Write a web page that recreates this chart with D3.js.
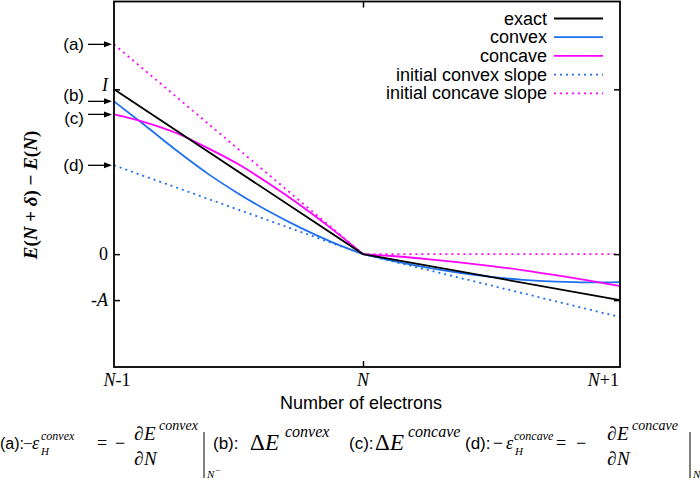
<!DOCTYPE html>
<html>
<head>
<meta charset="utf-8">
<script src="https://cdnjs.cloudflare.com/ajax/libs/d3/7.8.5/d3.min.js"></script>
<style>
  body { margin: 0; background: #fff; }
  svg { display: block; }
</style>
</head>
<body>
<div id="chart"></div>
<script>
// values in units of I (ionisation energy); x is electron offset from N
var xLeft  = [-1, -0.875, -0.75, -0.625, -0.5, -0.375, -0.25, -0.125, 0];
var xRight = [0, 0.125, 0.25, 0.375, 0.5, 0.625, 0.75, 0.875, 1];

var convexLeft   = [0.927, 0.78, 0.63, 0.49, 0.367, 0.257, 0.159, 0.073, 0];
var convexRight  = [0, -0.044, -0.082, -0.113, -0.138, -0.156, -0.167, -0.172, -0.170];
var concaveLeft  = [0.848, 0.80, 0.735, 0.645, 0.545, 0.425, 0.295, 0.153, 0];
var concaveRight = [0, -0.013, -0.030, -0.050, -0.073, -0.098, -0.127, -0.159, -0.194];

var exactX = [-1, 0, 1];
var exactY = [1, 0, -0.279];
var convexSlopeY  = [0.539, 0, -0.382];
var concaveSlopeY = [1.273, 0, 0];

var xTickVals   = [-1, 0, 1];
var xTickLabels = [['N', '-1'], ['N', ''], ['N', '+1']];
var yTickVals   = [1, 0, -0.279];
var yTickLabels = ['I', '0', '-A'];

var markerNames = ['(a)', '(b)', '(c)', '(d)'];
var markerVals  = [1.273, 0.927, 0.848, 0.539];

var legendNames = ['exact', 'convex', 'concave', 'initial convex slope', 'initial concave slope'];

var width = 700, height = 485;
var blue = '#1f70ee', magenta = '#ff00ff';
var serif = '"Liberation Serif", "Times New Roman", serif';
var sans = '"Liberation Sans", Arial, sans-serif';

var x = d3.scaleLinear().domain([-1, 0, 1]).range([114, 363, 620]);
var y = d3.scaleLinear().domain([-0.685, 1.533]).range([367, 1.5]);

var svg = d3.select('#chart').append('svg')
    .attr('width', width)
    .attr('height', height);

var line = d3.line()
    .x(function(d){ return x(d[0]); })
    .y(function(d){ return y(d[1]); });
var smooth = d3.line()
    .x(function(d){ return x(d[0]); })
    .y(function(d){ return y(d[1]); })
    .curve(d3.curveMonotoneX);

var pair = function(xs, ys){ return xs.map(function(v, i){ return [v, ys[i]]; }); };

var series = [
  {pts: pair(exactX, convexSlopeY), color: blue, dash: '2,4', gen: line},
  {pts: pair(exactX, concaveSlopeY), color: magenta, dash: '2,4', gen: line},
  {pts: pair(xLeft, convexLeft), color: blue, gen: smooth},
  {pts: pair(xRight, convexRight), color: blue, gen: smooth},
  {pts: pair(xLeft, concaveLeft), color: magenta, gen: smooth},
  {pts: pair(xRight, concaveRight), color: magenta, gen: smooth},
  {pts: pair(exactX, exactY), color: '#000', gen: line}
];

svg.append('g').selectAll('path').data(series)
  .enter().append('path')
    .attr('d', function(d){ return d.gen(d.pts); })
    .attr('fill', 'none')
    .attr('stroke', function(d){ return d.color; })
    .attr('stroke-width', 1.8)
    .attr('stroke-dasharray', function(d){ return d.dash || null; });

// frame
svg.append('rect')
  .attr('x', x(-1)).attr('y', y.range()[1])
  .attr('width', x(1) - x(-1)).attr('height', y.range()[0] - y.range()[1])
  .attr('fill', 'none').attr('stroke', '#000').attr('stroke-width', 1.8);

// ticks (inward)
var yAxisL = d3.axisRight(y).tickValues(yTickVals).tickSize(6).tickFormat('');
var yAxisR = d3.axisLeft(y).tickValues(yTickVals).tickSize(6).tickFormat('');
var xAxisB = d3.axisTop(x).tickValues([0]).tickSize(6).tickFormat('');
var xAxisT = d3.axisBottom(x).tickValues([0]).tickSize(6).tickFormat('');
[[yAxisL, 'translate(' + x(-1) + ',0)'], [yAxisR, 'translate(' + x(1) + ',0)'],
 [xAxisB, 'translate(0,' + y.range()[0] + ')'], [xAxisT, 'translate(0,' + y.range()[1] + ')']]
  .forEach(function(a){
    var g = svg.append('g').attr('transform', a[1]).call(a[0]);
    g.select('.domain').remove();
    g.selectAll('line').attr('stroke-width', 1.5);
  });

// y tick labels
var yLab = svg.append('g').selectAll('text').data(yTickVals)
  .enter().append('text')
    .attr('x', 108)
    .attr('y', function(d, i){ return y(d) + (i === 0 ? 2 : 6); })
    .attr('text-anchor', 'end')
    .attr('font-family', serif)
    .attr('font-size', 18);
yLab.each(function(d, i){
  var t = d3.select(this), s = yTickLabels[i];
  if (s === '0') { t.text(s); return; }
  if (s.charAt(0) === '-') { t.append('tspan').text('-'); s = s.slice(1); }
  t.append('tspan').attr('font-style', 'italic').text(s);
});

// x tick labels
var xLab = svg.append('g').selectAll('text').data(xTickVals)
  .enter().append('text')
    .attr('x', function(d, i){ return i === 2 ? x(d) - 1 : x(d) + (i === 0 ? 3 : 0); })
    .attr('y', 386)
    .attr('text-anchor', function(d, i){ return i === 2 ? 'end' : 'middle'; })
    .attr('font-family', serif)
    .attr('font-size', 18);
xLab.each(function(d, i){
  var t = d3.select(this);
  t.append('tspan').attr('font-style', 'italic').text(xTickLabels[i][0]);
  t.append('tspan').text(xTickLabels[i][1]);
});

svg.append('text')
  .attr('x', 361).attr('y', 409)
  .attr('text-anchor', 'middle')
  .attr('font-family', sans).attr('font-size', 18)
  .text('Number of electrons');

// y label
var yl = svg.append('text')
  .attr('transform', 'translate(37,195) rotate(-90)')
  .attr('text-anchor', 'middle')
  .attr('font-family', serif).attr('font-size', 19).attr('font-weight', 'bold');
[['E', 1], ['(', 0], ['N', 1], [' + ', 0], ['δ', 1], [') − ', 0], ['E', 1], ['(', 0], ['N', 1], [')', 0]]
  .forEach(function(p){
    yl.append('tspan').attr('font-style', p[1] ? 'italic' : 'normal').text(p[0]);
  });

// marker arrows on the left
var labelShift = [0, -6, 4, 0];
var mk = svg.append('g').selectAll('g').data(markerVals).enter().append('g');
mk.append('line')
  .attr('x1', 88).attr('x2', 106)
  .attr('y1', function(d){ return y(d); }).attr('y2', function(d){ return y(d); })
  .attr('stroke', '#000').attr('stroke-width', 1.3);
mk.append('path')
  .attr('d', function(d){ var yy = y(d); return 'M112,' + yy + 'L104,' + (yy - 3) + 'L104,' + (yy + 3) + 'Z'; })
  .attr('fill', '#000');
mk.append('text')
  .attr('x', 84)
  .attr('y', function(d, i){ return y(d) + labelShift[i] + 6; })
  .attr('text-anchor', 'end')
  .attr('font-family', sans).attr('font-size', 17)
  .text(function(d, i){ return markerNames[i]; });

// legend
var legendColors = ['#000', blue, magenta, blue, magenta];
var legendDash = [null, null, null, '2,4', '2,4'];
var lg = svg.append('g').selectAll('g').data(legendNames).enter().append('g')
  .attr('transform', function(d, i){ return 'translate(0,' + (18.5 + i * 18.7) + ')'; });
lg.append('text')
  .attr('x', 547).attr('y', 6)
  .attr('text-anchor', 'end')
  .attr('font-family', sans).attr('font-size', 18)
  .text(function(d){ return d; });
lg.append('line')
  .attr('x1', 554).attr('x2', 603).attr('y1', 0).attr('y2', 0)
  .attr('stroke', function(d, i){ return legendColors[i]; })
  .attr('stroke-width', 1.8)
  .attr('stroke-dasharray', function(d, i){ return legendDash[i]; });

// formula line under the chart
var put = function(px, py, txt, size, italic, fam){
  svg.append('text').attr('x', px).attr('y', py)
    .attr('font-family', fam || serif).attr('font-size', size)
    .attr('font-style', italic ? 'italic' : 'normal')
    .text(txt);
};
var partial = function(px, sup){
  put(px, 440, '∂', 19, false); put(px + 10, 440, 'E', 19, true);
  put(px + 25, 430, sup, 14, true);
  put(px, 465, '∂', 19, false); put(px + 10, 465, 'N', 19, true);
};
var evalBar = function(px){
  svg.append('line').attr('x1', px).attr('x2', px).attr('y1', 432).attr('y2', 478)
    .attr('stroke', '#000').attr('stroke-width', 1);
  put(px + 3, 478, 'N', 11, true); put(px + 11, 473, '−', 9, false);
};

put(0, 449, '(a):', 16, false, sans);
put(23, 449, '−', 17, false);
put(32, 449, 'ε', 18, true);
put(41, 440, 'convex', 12, true);
put(41, 455, 'H', 11, true);
put(97, 449, '=', 18, false);
put(115, 449, '−', 18, false);
partial(134, 'convex');
evalBar(204);

put(213, 449, '(b):', 17, false, sans);
put(250, 450, 'Δ', 23, false);
put(265, 450, 'E', 23, true);
put(285, 437, 'convex', 16, true);

put(349, 449, '(c):', 17, false, sans);
put(375, 450, 'Δ', 23, false);
put(390, 450, 'E', 23, true);
put(408, 437, 'concave', 16, true);

put(465, 449, '(d):', 17, false, sans);
put(493, 449, '−', 18, false);
put(506, 449, 'ε', 18, true);
put(514, 440, 'concave', 12, true);
put(515, 455, 'H', 11, true);
put(556, 449, '=', 18, false);
put(576, 449, '−', 18, false);
partial(607, 'concave');
evalBar(690);
</script>
</body>
</html>
